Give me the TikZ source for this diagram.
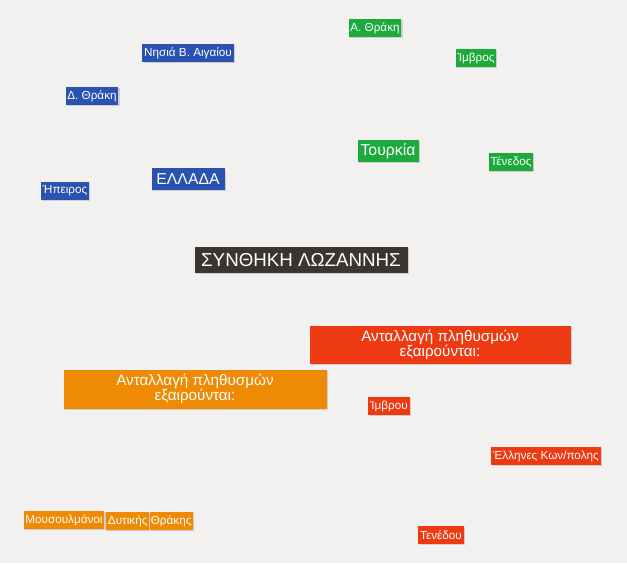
\documentclass[tikz,border=0pt]{standalone}
\usepackage{fontspec}
\setmainfont{Liberation Sans}
\usetikzlibrary{backgrounds,shadows}
\definecolor{bgc}{HTML}{F2F1EF}
\definecolor{grblue}{HTML}{2A52B0}
\definecolor{trgreen}{HTML}{1DAA3C}
\definecolor{exred}{HTML}{EE3A12}
\definecolor{exorange}{HTML}{EF8A05}
\definecolor{rootc}{HTML}{3B3430}
\tikzset{
  leaf/.style={fill=#1, text=white, font=\fontsize{10}{11}\selectfont, inner sep=1.5pt, minimum height=15pt, drop shadow={shadow xshift=1pt, shadow yshift=-1pt, opacity=0.3}},
  hub/.style={fill=#1, text=white, font=\fontsize{13.5}{14}\selectfont, inner sep=2pt, minimum height=18pt, drop shadow={shadow xshift=1pt, shadow yshift=-1pt, opacity=0.3}},
  bigbox/.style={fill=#1, text=white, font=\fontsize{13}{13}\selectfont, align=center, inner sep=1pt, drop shadow={shadow xshift=1pt, shadow yshift=-1pt, opacity=0.3}},
  link/.style={draw=gray!75, line width=0.9pt}
}
\begin{document}
\begin{tikzpicture}[x=0.03cm, y=-0.03cm]
\fill[bgc] (0,0) rectangle (627,563);

\node [fill=rootc, text=white, font=\fontsize{16}{16}\selectfont, minimum width=213*0.03cm, minimum height=26*0.03cm, inner sep=0pt, drop shadow={shadow xshift=1pt, shadow yshift=-1pt, opacity=0.3}] (root) at (301,260) {ΣΥΝΘΗΚΗ ΛΩΖΑΝΝΗΣ};

\node [hub=grblue, minimum width=73*0.03cm] (gr) at (188,179) {ΕΛΛΑΔΑ};
\node [leaf=grblue] (nis) at (188,53) {Νησιά Β. Αιγαίου};
\node [leaf=grblue] (dthr) at (92,96) {Δ. Θράκη};
\node [leaf=grblue] (ip) at (65,191) {Ήπειρος};

\node [hub=trgreen, minimum width=61*0.03cm] (tr) at (388,151) {Τουρκία};
\node [leaf=trgreen] (athr) at (375,28) {Α. Θράκη};
\node [leaf=trgreen] (imv) at (476,58) {Ίμβρος};
\node [leaf=trgreen] (ten) at (511,162) {Τένεδος};

\node [bigbox=exred, minimum width=261*0.03cm, minimum height=38*0.03cm] (red) at (440,345) {Ανταλλαγή πληθυσμών\\εξαιρούνται:};
\node [leaf=exred] (imvr) at (389,406) {Ίμβρου};
\node [leaf=exred] (ell) at (546,456) {Έλληνες Κων/πολης};
\node [leaf=exred] (tend) at (441,535) {Τενέδου};

\node [bigbox=exorange, minimum width=263*0.03cm, minimum height=39*0.03cm] (ora) at (195,389) {Ανταλλαγή πληθυσμών\\εξαιρούνται:};
\node [leaf=exorange] (mous) at (64,520) {Μουσουλμάνοι};
\node [leaf=exorange, anchor=west] (dyt) at (106,521) {Δυτικής};
\node [leaf=exorange, anchor=west, inner xsep=1pt] (thr) at (dyt.east) {Θράκης};

\begin{scope}[on background layer]
\draw [link] (root) -- (gr);
\draw [link] (root) -- (tr);
\draw [link] (root) -- (red);
\draw [link] (root) -- (ora);
\draw [link] (gr) -- (nis);
\draw [link] (gr) -- (dthr);
\draw [link] (gr) -- (ip);
\draw [link] (tr) -- (athr);
\draw [link] (tr) -- (imv);
\draw [link] (tr) -- (ten);
\draw [link] (440,345) -- (imvr);
\draw [link] (440,345) -- (ell);
\draw [link] (440,345) -- (tend);
\draw [link] (ora) -- (73,512);
\draw [link] (ora) -- (137,512);
\draw [link] (ora) -- (181,512);
\end{scope}
\end{tikzpicture}
\end{document}
